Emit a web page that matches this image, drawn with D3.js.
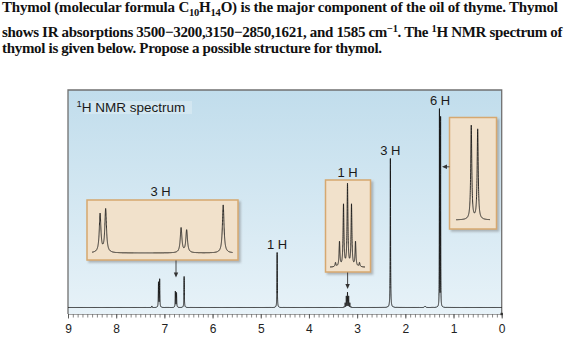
<!DOCTYPE html>
<html>
<head>
<meta charset="utf-8">
<script src="https://cdn.jsdelivr.net/npm/d3@7"></script>
<style>
  body { margin: 0; background: #fff; }
  svg { display: block; }
</style>
</head>
<body>
<script>
// ---- values ----
const shifts      = [7.26, 7.11, 6.76, 6.59, 4.66, 3.20, 2.31, 1.59, 1.28];   // ppm
const peakHeight  = [1.5, 28, 16, 31, 55, 15, 149, 1.2, 197];                 // tallest line, plot units
const linePattern = [[1], [0.89, 1], [1, 0.91], [1], [1], [1, 6, 15, 20, 15, 6, 1], [1], [1], [1, 0.96]];
const halfWidth   = [0.004, 0.0042, 0.0042, 0.0042, 0.004, 0.003, 0.004, 0.015, 0.0024];
const couplingJ   = 0.024;                                                   // ppm
const axisTicks   = [9, 8, 7, 6, 5, 4, 3, 2, 1, 0];
const integralText = ["3 H", "1 H", "1 H", "3 H", "6 H"];
const integralPpm  = [6.85, 4.66, 3.20, 2.31, 1.28];

const titleLines = [
  [["Thymol (molecular formula C"], ["10", "sub"], ["H"], ["14", "sub"], ["O) is the major component of the oil of thyme. Thymol"]],
  [["shows IR absorptions 3500\u22123200,3150\u22122850,1621, and 1585 cm"], ["\u22121", "sup"], [". The "], ["1", "sup"], ["H NMR spectrum of"]],
  [["thymol is given below. Propose a possible structure for thymol."]]
];

const W = 570, H = 344;
const box = {left: 68, right: 501.7, top: 90, bottom: 314};

const svg = d3.select("body").append("svg").attr("width", W).attr("height", H);

/* ---- defs: panel gradient and inset shadow ---- */
const defs = svg.append("defs");
const grad = defs.append("linearGradient").attr("id", "panelGrad")
  .attr("x1", 0).attr("y1", 0).attr("x2", 0).attr("y2", 1);
grad.append("stop").attr("offset", "0%").attr("stop-color", "#c1ddec");
grad.append("stop").attr("offset", "100%").attr("stop-color", "#e7f2f8");
const shadow = defs.append("filter").attr("id", "insetShadow")
  .attr("x", "-20%").attr("y", "-20%").attr("width", "150%").attr("height", "150%");
shadow.append("feDropShadow").attr("dx", 2).attr("dy", 2).attr("stdDeviation", 1.2)
  .attr("flood-color", "#6f6f6f").attr("flood-opacity", 0.45);

/* ---- title paragraph ---- */
const titleY = [12.3, 37, 53];
const titleLen = [556, 560.5, 380];
titleLines.forEach(function(segs, i) {
  let t = svg.append("text")
    .attr("x", 2).attr("y", titleY[i])
    .style("font-family", "'Liberation Serif', 'Times New Roman', serif")
    .style("font-weight", "bold").style("font-size", "15px").attr("fill", "#111");
  segs.forEach(function(s) {
    let ts = t.append("tspan").text(s[0]);
    if (s[1] === "sub") ts.attr("dy", 4).style("font-size", "10.5px");
    if (s[1] === "sup") ts.attr("dy", -5.5).style("font-size", "10.5px");
    if (s[1]) ts.attr("data-shift", s[1] === "sub" ? -4 : 5.5);
  });
  // move the run after each sub/sup back to the baseline
  t.selectAll("tspan").each(function() {
    let back = this.getAttribute("data-shift");
    if (back !== null && this.nextSibling) d3.select(this.nextSibling).attr("dy", back);
  });
  if (titleLen[i]) t.attr("textLength", titleLen[i]).attr("lengthAdjust", "spacing");
});

/* ---- scales ---- */
const x = d3.scaleLinear().domain([9, 0]).range([box.left, box.right]);
const y = d3.scaleLinear().domain([0, 200]).range([307.5, 107.5]);

/* individual lines of every multiplet */
const lines = [];
shifts.forEach(function(c, i) {
  let p = linePattern[i], n = p.length, m = d3.max(p);
  p.forEach(function(v, k) {
    lines.push({group: i, ppm: c + ((n - 1) / 2 - k) * couplingJ, h: v / m * peakHeight[i], g: halfWidth[i]});
  });
});
function intensity(ppm) {
  let s = 0;
  lines.forEach(function(l) { let d = ppm - l.ppm; s += l.h * l.g * l.g / (d * d + l.g * l.g); });
  return s;
}
function samplePoints(lo, hi, coarse, fine) {
  let pts = d3.range(lo, hi + 1e-9, coarse);
  lines.forEach(function(l) {
    pts = pts.concat(d3.range(l.ppm - 0.12, l.ppm + 0.12, fine), [l.ppm]);
  });
  pts = pts.filter(p => p >= lo && p <= hi).sort((a, b) => a - b);
  return pts;
}
/** highest point of the multiplet centred at ppm */
function multipletTop(ppm) {
  let gi = shifts.indexOf(ppm);
  return d3.max(lines.filter(l => l.group === gi), l => intensity(l.ppm));
}

/* ---- panel ---- */
svg.append("rect")
  .attr("x", box.left).attr("y", box.top)
  .attr("width", box.right - box.left).attr("height", box.bottom - box.top)
  .attr("fill", "url(#panelGrad)");
svg.append("path")
  .attr("d", `M${box.left},${box.bottom}V${box.top}H${box.right}V${box.bottom}`)
  .attr("fill", "none").attr("stroke", "#707070").attr("stroke-width", 1.3);

// header with a faint highlight behind it
svg.append("rect").attr("x", 84).attr("y", 101).attr("width", 108).attr("height", 13)
  .attr("fill", "#ffffff").attr("opacity", 0.25);
let hdr = svg.append("text").attr("x", 76.5).attr("y", 111.6)
  .style("font-family", "'Liberation Sans', Arial, sans-serif").style("font-size", "13.5px").attr("fill", "#1a1a1a");
hdr.append("tspan").text("1").attr("dy", -4.5).style("font-size", "9.5px");
hdr.append("tspan").text("H NMR spectrum").attr("dy", 4.5);

/* ---- axis: ruler with minor and major ticks ---- */
const gAxis = svg.append("g").attr("transform", `translate(0,${box.bottom})`);
gAxis.append("g")
  .call(d3.axisBottom(x).tickValues(d3.range(0, 90.5, 1).map(v => v / 10)).tickSize(3.5).tickSizeOuter(0).tickFormat(""))
  .call(g => g.select(".domain").attr("stroke", "#8a8a8a").attr("stroke-width", 0.8))
  .call(g => g.selectAll(".tick line").attr("stroke", "#6a6a6a").attr("stroke-width", 0.8));
gAxis.append("g")
  .call(d3.axisBottom(x).tickValues(axisTicks).tickSize(4.5).tickSizeOuter(0).tickPadding(5.5).tickFormat(d3.format("d")))
  .call(g => g.select(".domain").remove())
  .call(g => g.selectAll(".tick line").attr("stroke", "#555").attr("stroke-width", 0.9))
  .call(g => g.selectAll(".tick text").attr("fill", "#222")
    .style("font-family", "'Liberation Sans', Arial, sans-serif").style("font-size", "12px"));
svg.append("rect").attr("x", box.right - 1.2).attr("y", box.bottom - 1.2).attr("width", 2.4).attr("height", 2.4).attr("fill", "#333");

/* ---- main trace ---- */
const trace = d3.line().x(d => x(d)).y(d => y(intensity(d)));
svg.append("path")
  .datum(samplePoints(0, 9, 0.01, 0.0004))
  .attr("d", trace)
  .attr("fill", "none").attr("stroke", "#1a1a1a").attr("stroke-width", 1);

/* ---- expansions (insets) ---- */
const insets = [
  {x0: 87, y0: 200, x1: 238, y1: 260, hi: 7.157, lo: 6.549, px: [92, 232.7], base: 253, gain: 1.55,
   arrow: [[176, 260.5], [176, 277.5]]},
  {x0: 325.5, y0: 180, x1: 370.5, y1: 272, hi: 3.305, lo: 3.095, px: [330, 365], base: 267.3, gain: 5.47,
   arrow: [[347.6, 272.5], [347.6, 289]]},
  {x0: 449.5, y0: 117.5, x1: 496.5, y1: 229, hi: 1.349, lo: 1.222, px: [456, 490], base: 220, gain: 0.477,
   arrow: [[449.5, 166.8], [442, 166.8]]}
];
insets.forEach(function(ins) {
  let gi = svg.append("g");
  gi.append("rect")
    .attr("x", ins.x0).attr("y", ins.y0).attr("width", ins.x1 - ins.x0).attr("height", ins.y1 - ins.y0)
    .attr("fill", "#f1e1cb").attr("stroke", "#d6a86f").attr("stroke-width", 1.5)
    .attr("filter", "url(#insetShadow)");
  let xi = d3.scaleLinear().domain([ins.hi, ins.lo]).range(ins.px);
  let pts = samplePoints(ins.lo, ins.hi, 0.002, 0.0002);
  gi.append("path")
    .datum(pts)
    .attr("d", d3.line().x(d => xi(d)).y(d => ins.base - ins.gain * intensity(d)))
    .attr("fill", "none").attr("stroke", "#1a1a1a").attr("stroke-width", 0.9);

  // arrow from the inset to its multiplet
  let a = ins.arrow, dx = a[1][0] - a[0][0], dy = a[1][1] - a[0][1];
  let len = Math.hypot(dx, dy), ux = dx / len, uy = dy / len;
  gi.append("line")
    .attr("x1", a[0][0]).attr("y1", a[0][1])
    .attr("x2", a[1][0] - ux * 3).attr("y2", a[1][1] - uy * 3)
    .attr("stroke", "#333").attr("stroke-width", 0.9);
  let tip = a[1], bx = tip[0] - ux * 5, by = tip[1] - uy * 5;
  gi.append("path")
    .attr("d", `M${tip[0]},${tip[1]}L${bx - uy * 2.2},${by + ux * 2.2}L${bx + uy * 2.2},${by - ux * 2.2}Z`)
    .attr("fill", "#333");
});

/* ---- integration labels ---- */
const labelPos = integralPpm.map(function(p, i) {
  if (i === 0) return [(insets[0].x0 + insets[0].x1) / 2 - 2, insets[0].y0 - 4.5];
  if (i === 2) return [x(p), insets[1].y0 - 3.5];
  return [x(p), y(multipletTop(p)) - 3.7];
});
svg.append("g").selectAll("text")
  .data(integralText)
  .join("text")
  .attr("x", (d, i) => labelPos[i][0]).attr("y", (d, i) => labelPos[i][1])
  .attr("text-anchor", "middle")
  .style("font-family", "'Liberation Sans', Arial, sans-serif").style("font-size", "13px")
  .attr("fill", "#1a1a1a")
  .text(d => d);
</script>
</body>
</html>
